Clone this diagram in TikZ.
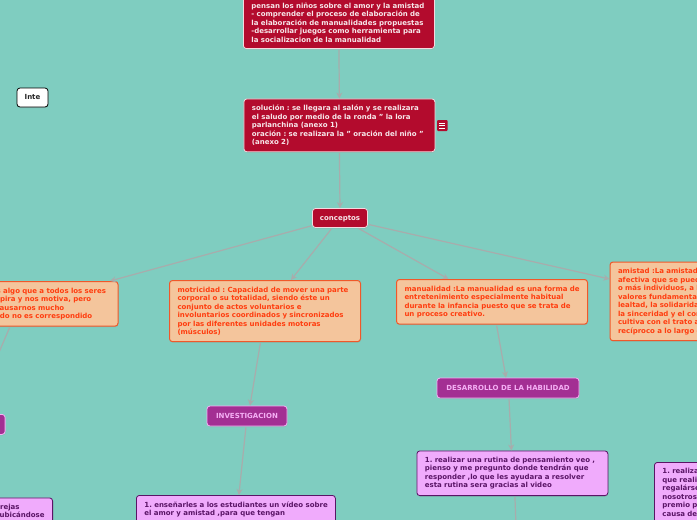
\documentclass[tikz,border=0pt]{standalone}
\usepackage{fontspec}
\setmainfont{DejaVu Sans}
\usetikzlibrary{arrows.meta,shadows}
\definecolor{bg}{HTML}{7FCDC0}
\definecolor{redf}{HTML}{B30B2D}
\definecolor{peach}{HTML}{F4C59C}
\definecolor{orng}{HTML}{FF3D0F}
\definecolor{orngb}{HTML}{F0582A}
\definecolor{purp}{HTML}{A32F93}
\definecolor{purpt}{HTML}{F5B0F5}
\definecolor{lilac}{HTML}{F0ABFC}
\definecolor{dpurp}{HTML}{5A1466}
\definecolor{conn}{HTML}{A8ACAC}
\tikzset{
 softshadow/.style={drop shadow={opacity=.22,shadow xshift=.4pt,shadow yshift=-1pt}},
 base/.style={rounded corners=3pt,softshadow,inner xsep=8pt,inner ysep=6.2pt,font=\fontsize{7}{8.5}\selectfont\bfseries\frenchspacing,align=left},
 wide/.style={text width=175pt},
 oneline/.style={text height=5.5pt,text depth=1.5pt},
 redbox/.style={base,fill=redf,draw=white!85!redf,line width=.8pt,text=white!90!redf},
 peachbox/.style={base,fill=peach,draw=orngb,line width=1pt,text=orng},
 purpbox/.style={base,oneline,fill=purp,draw=purpt,line width=.8pt,text=purpt,align=center,inner xsep=0pt,inner ysep=0pt},
 lilacbox/.style={base,fill=lilac,draw=dpurp,line width=.8pt,text=dpurp},
 whitebox/.style={base,oneline,fill=white,draw=black,line width=.8pt,text=black!85,align=center,inner xsep=0pt,inner ysep=0pt},
 conline/.style={draw=conn,line width=1.2pt,shorten <=1pt},
 arr/.style={conline,-{Stealth[length=6pt,width=6pt]}}
}
\begin{document}
\begin{tikzpicture}[x=1pt,y=-1pt]
\useasboundingbox (0,0) rectangle (697,520);
\clip (0,0) rectangle (697,520);
\fill[bg] (0,0) rectangle (697,520);
% connectors are drawn after the boxes
\node[redbox,wide,anchor=south west] (top) at (243,49) {pensan los niños sobre el amor y la amistad\\- comprender el proceso de elaboración de\\la elaboración de manualidades propuestas\\-desarrollar juegos como herramienta para\\la socializacion de la manualidad};
\node[redbox,wide,anchor=north west] (sol) at (243.5,98.5) {solución : se llegara al salón y se realizara\\el saludo por medio de la ronda " la lora\\parlanchina (anexo 1)\\oración : se realizara la " oración del niño "\\(anexo 2)};
\node[redbox,oneline,anchor=center,align=center,minimum width=55pt,minimum height=19pt,inner xsep=0pt,inner ysep=0pt] (con) at (340,218) {conceptos};
\node[whitebox,minimum width=31pt,minimum height=19pt] (inte) at (32.5,97.5) {Inte};
\node[fill=redf,rounded corners=1pt,minimum width=10.5pt,minimum height=11pt,inner sep=0pt] (menu) at (442.3,125.5) {};
\foreach \yy in {-2.5,0,2.5}{\draw[white,line width=.6pt] ([shift={(-3,\yy)}]menu.center) -- ([shift={(3,\yy)}]menu.center);}
\node[peachbox,anchor=north east,align=right,text width=130pt,inner xsep=12pt] (amor) at (118.5,281) {es algo que a todos los seres\\inspira y nos motiva, pero\rule{14.7pt}{0pt}\\causarnos mucho\rule{41.7pt}{0pt}\\cuando no es correspondido\rule{13.7pt}{0pt}};
\node[peachbox,wide,anchor=north west] (mot) at (169,280) {motricidad : Capacidad de mover una parte\\corporal o su totalidad, siendo éste un\\conjunto de actos voluntarios e\\involuntarios coordinados y sincronizados\\por las diferentes unidades motoras\\(músculos)};
\node[peachbox,wide,anchor=north west] (man) at (396,279) {\rlap{manualidad :La manualidad es una forma de}\\entretenimiento especialmente habitual\\durante la infancia puesto que se trata de\\un proceso creativo.};
\node[peachbox,wide,anchor=north west] (ami) at (609.5,261.5) {amistad :La amistad\\afectiva que se pued\\o más individuos, a l\\valores fundamental\\lealtad, la solidarida\\la sinceridad y el cor\\cultiva con el trato a\\recíproco a lo largo d};
\node[purpbox,minimum width=80pt,minimum height=20pt] (inv) at (247,416) {INVESTIGACION};
\node[purpbox,minimum width=142pt,minimum height=20pt] (des) at (508,388) {DESARROLLO DE LA HABILIDAD};
\node[purpbox,anchor=north east,minimum width=100pt,minimum height=20pt] (left) at (5.5,414) {};
\node[lilacbox,text width=183pt,anchor=north west] (vid) at (136,495) {\rlap{1. enseñarles a los estudiantes un vídeo sobre}\\el amor y amistad ,para que tengan};
\node[lilacbox,wide,anchor=north west] (rut) at (416.5,450.5) {1. realizar una rutina de pensamiento veo ,\\pienso y me pregunto donde tendrán que\\responder ,lo que  les ayudara a resolver\\esta  rutina  sera gracias al video};
\node[lilacbox,wide,anchor=north west] (reg) at (654,462) {1. realiza\\que reali\\regalárse\\nosotros\\premio p\\causa de};
\node[lilacbox,anchor=north east,align=right,text width=100pt] (par) at (53,497.5) {parejas\rule{25pt}{0pt}\\ubicándose};
\coordinate (botend) at (516,526);
% connectors
\draw[arr] (top.south) -- (sol.north);
\draw[arr] (sol.south) -- (con.north);
\draw[arr] (con) -- ([xshift=-8.5pt]amor.north east);
\draw[arr] (con) -- ([xshift=26pt]mot.north);
\draw[arr] (con) -- ([xshift=-43.5pt]man.north);
\draw[arr] (con) -- ([yshift=-17.5pt]ami.north west);
\draw[arr] ([xshift=-108.5pt]amor.south east) -- ([xshift=-33pt]left.north east);
\draw[arr] ([xshift=-4.5pt]mot.south) -- ([xshift=3pt]inv.north);
\draw[arr] ([xshift=-1pt]inv.south) -- ([xshift=3pt]vid.north);
\draw[arr] ([xshift=4.5pt]man.south) -- ([xshift=-2pt]des.north);
\draw[arr] ([xshift=1pt]des.south) -- ([xshift=-1pt]rut.north);
\draw[conline] ([xshift=2.5pt]rut.south) -- (botend);
\end{tikzpicture}
\end{document}
